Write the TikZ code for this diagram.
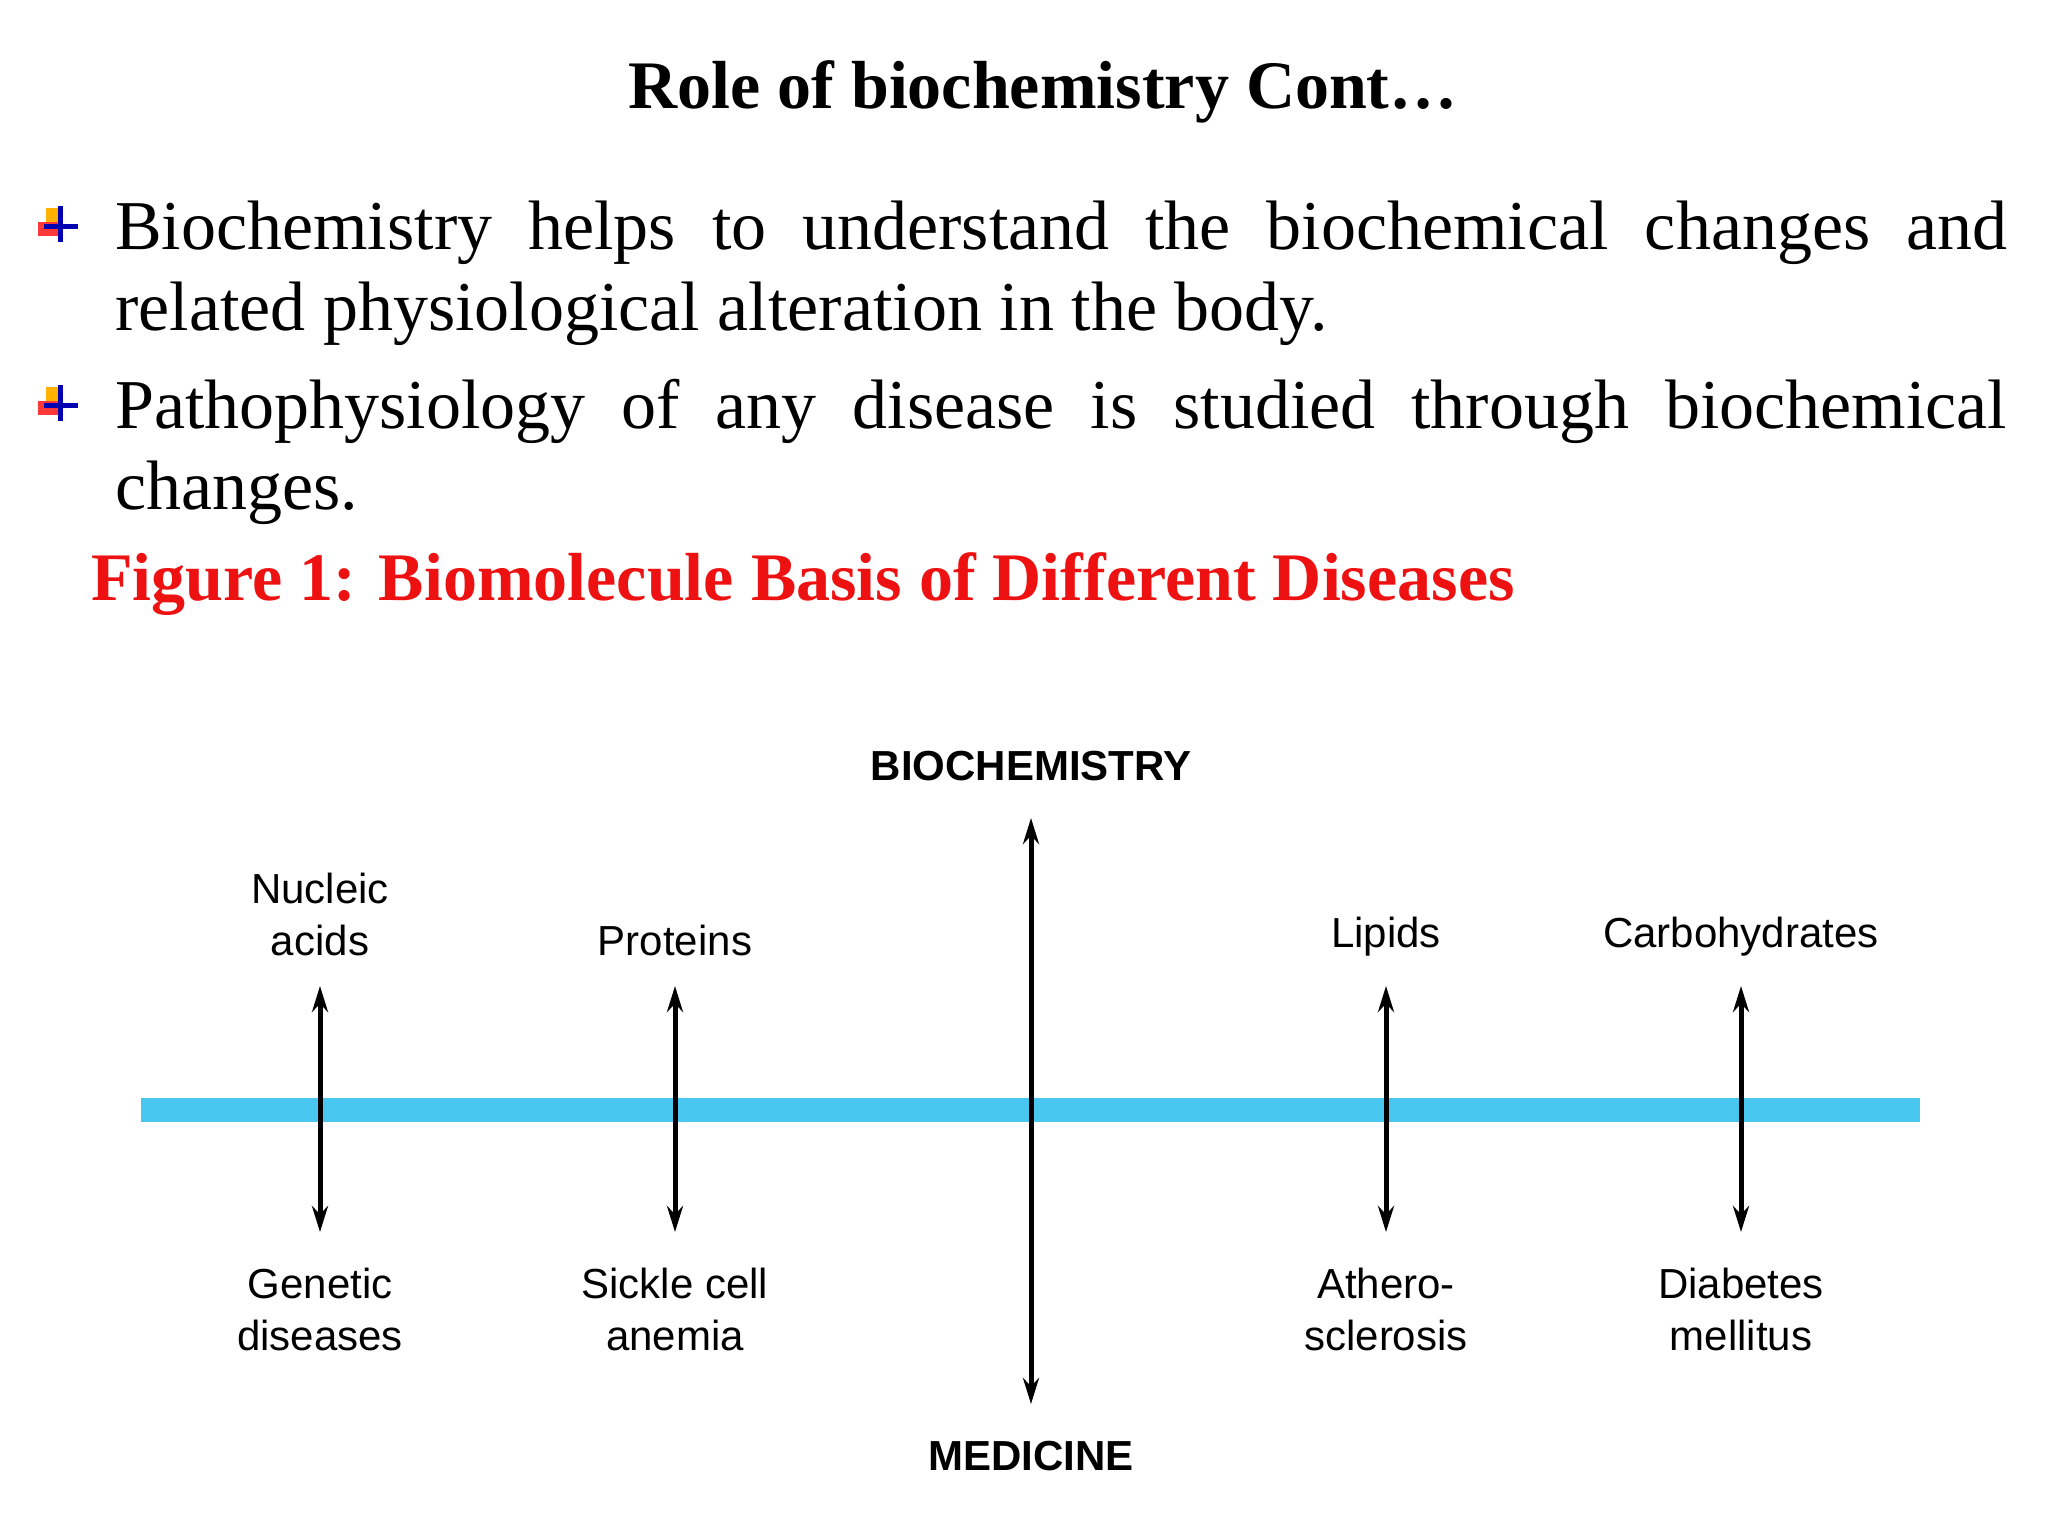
\documentclass[tikz,border=0pt]{standalone}
\usepackage{fontspec}
\setmainfont{Liberation Serif}
\setsansfont{Liberation Sans}
\usetikzlibrary{arrows.meta}
\definecolor{barblue}{HTML}{48C8F0}
\definecolor{figred}{HTML}{EE1111}
\begin{document}
\begin{tikzpicture}[x=1pt,y=-1pt,
  lab/.style={font=\sffamily\fontsize{42}{52}\selectfont,align=center,inner sep=0pt},
  blab/.style={lab,font=\sffamily\bfseries\fontsize{42}{50}\selectfont},
  arr/.style={line width=5pt,{Stealth[length=26pt,width=16pt]}-{Stealth[length=26pt,width=16pt]}}]
\useasboundingbox[fill=white] (0,0) rectangle (2048,1536);
\node[font=\bfseries\fontsize{68}{72}\selectfont] (title) at (1043,92) {Role of biochemistry Cont…};
\newcommand\mybullet[2]{%
  \fill[orange!60!yellow] (#1-14,#2-18) rectangle (#1+2,#2);
  \fill[red!70!pink] (#1-22,#2-4) rectangle (#1-2,#2+10);
  \fill[blue!70!black] (#1-2.5,#2-20) rectangle (#1+2.5,#2+16);
  \fill[blue!70!black] (#1-16,#2-2.5) rectangle (#1+18,#2+2.5);}
\mybullet{60}{226}
\mybullet{60}{405}
\node[anchor=north west,text width=1892pt,align=justify,inner sep=0pt,font=\fontsize{70}{81}\selectfont] (b1) at (115,201)
 {Biochemistry helps to understand the biochemical changes and\linebreak related physiological alteration in the body.};
\node[anchor=north west,text width=1892pt,align=justify,inner sep=0pt,font=\fontsize{70}{81}\selectfont] (b2) at (115,379)
 {Pathophysiology of any disease is studied through biochemical\linebreak changes.};
\node[anchor=west,inner sep=0pt,text=figred,font=\bfseries\fontsize{68}{72}\selectfont] (cap) at (91,584) {Figure 1: Biomolecule Basis of Different Diseases};
\fill[barblue] (141,1098) rectangle (1920,1122);
\node[blab] (bio) at (1031,766) {BIOCHEMISTRY};
\node[blab] (med) at (1031,1456) {MEDICINE};
\coordinate (bt) at (1031,818); \coordinate (bb) at (1031,1404);
\draw[arr] (bt) -- (bb);
\foreach \n/\x/\top/\bot in {na/320/{Nucleic\\acids}/{Genetic\\diseases},pr/675/{Proteins}/{Sickle cell\\anemia},li/1386/{Lipids}/{Athero-\\sclerosis},ca/1741/{Carbohydrates}/{Diabetes\\mellitus}}{
  \node[lab,anchor=south] (\n t) at (\x,956) {\top};
  \node[lab,anchor=north] (\n b) at (\x,1268) {\bot};
  \coordinate (\n u) at (\x,986); \coordinate (\n d) at (\x,1232);
  \draw[arr] (\n u) -- (\n d);
}
\end{tikzpicture}
\end{document}
